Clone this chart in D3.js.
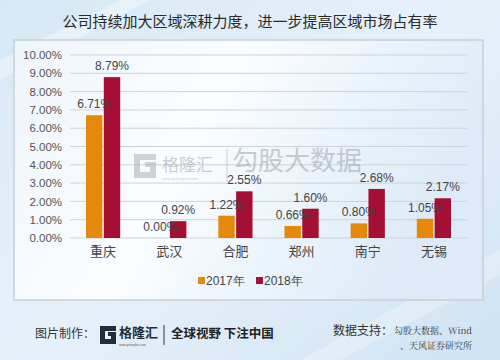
<!DOCTYPE html>
<html><head><meta charset="utf-8">
<script src="https://cdn.jsdelivr.net/npm/d3@7"></script>
<style>html,body{margin:0;padding:0;background:#fff}svg{display:block}</style>
</head><body>
<script>
const categories = ["重庆","武汉","合肥","郑州","南宁","无锡"];
const series = ["2017年","2018年"];
const values2017 = [6.71, 0.00, 1.22, 0.66, 0.80, 1.05];
const values2018 = [8.79, 0.92, 2.55, 1.60, 2.68, 2.17];
const yTicks = [0,1,2,3,4,5,6,7,8,9,10];
const colors = ["#E5890A","#A50F33"];
const title = "公司持续加大区域深耕力度，进一步提高区域市场占有率";

const W=500,H=360;
const svg=d3.select("body").append("svg").attr("width",W).attr("height",H);
const defs=svg.append("defs");
const bg=defs.append("linearGradient").attr("id","bg").attr("x1",0).attr("y1",0).attr("x2",1).attr("y2",1);
bg.append("stop").attr("offset",0).attr("stop-color","#d6e8f6");
bg.append("stop").attr("offset",0.5).attr("stop-color","#e6f1fa");
bg.append("stop").attr("offset",1).attr("stop-color","#cfe3f3");
svg.append("rect").attr("width",W).attr("height",H).attr("fill","url(#bg)");
svg.append("path").attr("d","M0,60 L120,0 L150,0 L0,80 Z").attr("fill","#fff").attr("opacity",0.35);
svg.append("path").attr("d","M300,360 L500,250 L500,275 L340,360 Z").attr("fill","#fff").attr("opacity",0.25);

const pg=defs.append("linearGradient").attr("id","pg").attr("x1",0).attr("y1",0).attr("x2",1).attr("y2",0.3);
pg.append("stop").attr("offset",0).attr("stop-color","#eef5fb");
pg.append("stop").attr("offset",0.45).attr("stop-color","#fbfdff");
pg.append("stop").attr("offset",1).attr("stop-color","#dcebf7");
svg.append("rect").attr("x",14).attr("y",40).attr("width",469).attr("height",260)
  .attr("fill","url(#pg)").attr("stroke","#c9cfd4").attr("stroke-width",1.5);

svg.append("text").attr("x",250).attr("y",27).attr("text-anchor","middle")
  .attr("font-family","Noto Sans CJK SC").attr("font-size",15).attr("fill","#2a2a2a").text(title);

const x0=d3.scaleBand().domain(categories).range([70,467]).paddingInner(0.44).paddingOuter(0.22);
const x1=d3.scaleBand().domain(series).range([0,x0.bandwidth()]).padding(0.08);
const y=d3.scaleLinear().domain([0,10]).range([238,55]);

const grid=svg.append("g");
grid.selectAll("line").data(yTicks).join("line")
  .attr("x1",70).attr("x2",467).attr("y1",d=>y(d)).attr("y2",d=>y(d))
  .attr("stroke","#cdd3d8").attr("stroke-width",1);

const yAxis=svg.append("g").attr("transform","translate(66,0)")
  .call(d3.axisLeft(y).tickValues(yTicks).tickSize(0).tickPadding(4).tickFormat(d=>d.toFixed(2)+"%"));
yAxis.select(".domain").remove();
yAxis.selectAll("text").attr("font-family","Liberation Sans").attr("font-size",11.5).attr("fill","#555");

// watermark
const wm=svg.append("g").attr("opacity",0.45);
wm.append("path").attr("d","M134,154 h22 v6 h-16 v12 h10 v-5 h-5 v-5 h11 v16 h-22 z").attr("fill","#9aa0a6");
wm.append("text").attr("x",162).attr("y",171).attr("font-family","Noto Sans CJK SC").attr("font-size",17).attr("fill","#8f959b").text("格隆汇");
wm.append("text").attr("x",162).attr("y",180).attr("font-family","Liberation Sans").attr("font-size",4).attr("fill","#8f959b").text("www.gelonghui.com");
wm.append("line").attr("x1",227).attr("x2",227).attr("y1",149).attr("y2",182).attr("stroke","#9aa0a6");
wm.append("text").attr("x",232).attr("y",170).attr("font-family","Noto Sans CJK SC").attr("font-size",26).attr("fill","#8f959b").text("勾股大数据");

const data=categories.map((c,i)=>({cat:c,vals:[values2017[i],values2018[i]]}));
const groups=svg.append("g").selectAll("g").data(data).join("g")
  .attr("transform",d=>`translate(${x0(d.cat)},0)`);
groups.selectAll("rect").data(d=>d.vals.map((v,j)=>({s:series[j],v,j}))).join("rect")
  .attr("x",d=>x1(d.s)).attr("width",x1.bandwidth())
  .attr("y",d=>y(d.v)).attr("height",d=>y(0)-y(d.v)).attr("fill",d=>colors[d.j]);
groups.selectAll("text.lbl").data(d=>d.vals.map((v,j)=>({s:series[j],v,j}))).join("text")
  .attr("class","lbl").attr("x",d=>x1(d.s)+x1.bandwidth()/2).attr("y",d=>y(d.v)-7)
  .attr("text-anchor","middle").attr("font-family","Liberation Sans").attr("font-size",12)
  .attr("fill","#444").text(d=>d.v.toFixed(2)+"%");

const xAxis=svg.append("g").attr("transform","translate(0,241)")
  .call(d3.axisBottom(x0).tickSize(0).tickPadding(6));
xAxis.select(".domain").remove();
xAxis.selectAll("text").attr("font-family","Noto Sans CJK SC").attr("font-size",13).attr("fill","#444");

// legend
const leg=svg.append("g");
const lx=[198,256];
series.forEach((s,i)=>{
  leg.append("rect").attr("x",lx[i]).attr("y",277).attr("width",7).attr("height",7).attr("fill",colors[i]);
  leg.append("text").attr("x",lx[i]+8).attr("y",285).attr("font-family","Liberation Sans").attr("font-size",12).attr("fill","#444").text(s);
});

// footer
const ft=svg.append("g");
ft.append("text").attr("x",35).attr("y",338).attr("font-family","Noto Sans CJK SC").attr("font-size",12).attr("fill","#333").text("图片制作：");
ft.append("path").attr("d","M100,326 h16 v5 h-11 v8 h6 v-3 h-3 v-4 h8 v12 h-16 z").attr("fill","#1f2d3d");
ft.append("text").attr("x",119).attr("y",337).attr("font-family","Noto Sans CJK SC").attr("font-size",13).attr("font-weight","bold").attr("fill","#1f2d3d").text("格隆汇");
ft.append("text").attr("x",119).attr("y",346).attr("font-family","Liberation Sans").attr("font-size",3).attr("fill","#555").text("www.gelonghui.com");
ft.append("line").attr("x1",164).attr("x2",164).attr("y1",325).attr("y2",345).attr("stroke","#333");
ft.append("text").attr("x",171).attr("y",338).attr("font-family","Noto Sans CJK SC").attr("font-size",12.5).attr("font-weight","bold").attr("fill","#222").text("全球视野 下注中国");
ft.append("text").attr("x",333).attr("y",335).attr("font-family","Noto Sans CJK SC").attr("font-size",12).attr("fill","#333").text("数据支持：");
ft.append("text").attr("x",472).attr("y",334).attr("text-anchor","end").attr("font-family","Noto Serif CJK SC, Noto Sans CJK SC").attr("font-size",9).attr("fill","#333").text("勾股大数据、Wind");
ft.append("text").attr("x",472).attr("y",349).attr("text-anchor","end").attr("font-family","Noto Serif CJK SC, Noto Sans CJK SC").attr("font-size",9).attr("fill","#333").text("、天风证券研究所");
</script>
</body></html>
